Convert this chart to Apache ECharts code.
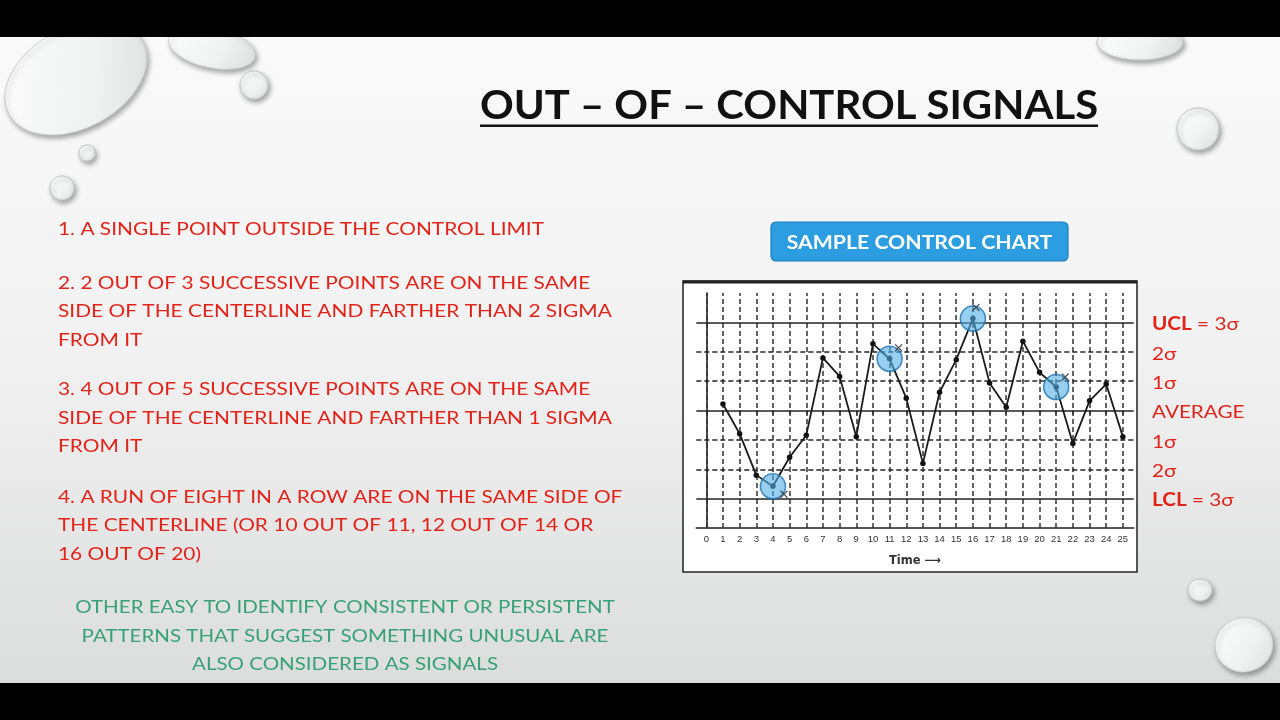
<!DOCTYPE html>
<html><head><meta charset="utf-8">
<script src="https://cdn.jsdelivr.net/npm/echarts@6/dist/echarts.min.js"></script>
<style>html,body{margin:0;padding:0;background:#000}#c{width:1280px;height:720px}</style>
</head><body><div id="c"></div>
<script>
// ---- data ----
const tickLabels = [0,1,2,3,4,5,6,7,8,9,10,11,12,13,14,15,16,17,18,19,20,21,22,23,24,25];
const times = [1,2,3,4,5,6,7,8,9,10,11,12,13,14,15,16,17,18,19,20,21,22,23,24,25];
const values = [0.22,-0.79,-2.20,-2.58,-1.59,-0.84,1.79,1.16,-0.89,2.27,1.76,0.42,-1.80,0.62,1.73,3.13,0.94,0.11,2.36,1.30,0.80,-1.12,0.33,0.90,-0.89];
const flagged = [4,11,16,21];
const sigmaLevels = [3,2,1,0,-1,-2,-3];
const sigmaLabels = ['UCL = 3σ','2σ','1σ','AVERAGE','1σ','2σ','LCL = 3σ'];
const titleText = 'OUT – OF – CONTROL SIGNALS';
const buttonText = 'SAMPLE CONTROL CHART';
const axisName = 'Time ⟶';
const ruleLines = [
  '1. A SINGLE POINT OUTSIDE THE CONTROL LIMIT',
  '2. 2 OUT OF 3 SUCCESSIVE POINTS ARE ON THE SAME',
  'SIDE OF THE CENTERLINE AND FARTHER THAN 2 SIGMA',
  'FROM IT',
  '3. 4 OUT OF 5 SUCCESSIVE POINTS ARE ON THE SAME',
  'SIDE OF THE CENTERLINE AND FARTHER THAN 1 SIGMA',
  'FROM IT',
  '4. A RUN OF EIGHT IN A ROW ARE ON THE SAME SIDE OF',
  'THE CENTERLINE (OR 10 OUT OF 11, 12 OUT OF 14 OR',
  '16 OUT OF 20)'
];
const noteLines = [
  'OTHER EASY TO IDENTIFY CONSISTENT OR PERSISTENT',
  'PATTERNS THAT SUGGEST SOMETHING UNUSUAL ARE',
  'ALSO CONSIDERED AS SIGNALS'
];

// ---- layout ----
const ruleY = [229,283,311,340,389,418,446,497,525,554];
const noteY = [607,636,664];
const crossOffsets = [[11,8],[9,-11],[3,-11],[9,-10]];
const RED = '#e2231a', GREEN = '#38a07a';
const FONT = 'Lato, "Open Sans", sans-serif';
const X_MIN = -0.6, X_MAX = 25.65;

const chart = echarts.init(document.getElementById('c'), null, {renderer:'canvas'});

const points = times.map((t,i)=>[t, values[i]]);
const flaggedPts = flagged.map(t => [t, values[times.indexOf(t)]]);
const crossPts = flaggedPts.map((p,i)=>({value:p, symbolOffset:crossOffsets[i]}));

function drop(cx, cy, rx, ry, rot) {
  return {
    type:'ellipse', x:cx, y:cy, rotation: rot || 0, z:-8,
    shape:{cx:0, cy:0, rx:rx, ry:ry},
    style:{
      fill: new echarts.graphic.LinearGradient(0,0,1,1,[
        {offset:0,color:'rgba(255,255,255,0.97)'},
        {offset:0.6,color:'rgba(243,245,244,0.97)'},
        {offset:1,color:'rgba(220,223,222,0.97)'}]),
      stroke:'rgba(200,203,202,0.8)', lineWidth:1,
      shadowBlur:5, shadowColor:'rgba(0,0,0,0.35)', shadowOffsetX:2, shadowOffsetY:3
    }
  };
}
function txt(t, x, y, font, fill, align, sx, z) {
  return {type:'text', x:x, y:y, scaleX:sx, scaleY:1, z: z || 3,
    style:{text:t, x:0, y:0, align:align, verticalAlign:'middle', font:font, fill:fill}};
}

const graphics = [
  {type:'rect', z:-10, shape:{x:0,y:0,width:1280,height:720},
   style:{fill:new echarts.graphic.LinearGradient(0,0,0,1,[
     {offset:0,color:'#fafbfa'},{offset:0.5,color:'#f0f1f0'},{offset:1,color:'#d9dbda'}])}},
  drop(76,78,76,50,0.5),
  drop(212,48,44,20,-0.2),
  drop(254,85,14,14,0),
  drop(87,153,8,8,0),
  drop(62,188,12,12,0),
  drop(1140,42,43,18,0),
  drop(1198,129,21,21,0),
  drop(1200,590,12,11,0),
  drop(1244,645,29,27,0.2),
  {type:'rect', z:5, shape:{x:0,y:0,width:1280,height:37}, style:{fill:'#000'}},
  {type:'rect', z:5, shape:{x:0,y:683,width:1280,height:37}, style:{fill:'#000'}},
  txt(titleText, 789, 106, 'bold 40px ' + FONT, '#111', 'center', 1.045),
  {type:'rect', z:3, shape:{x:480,y:124.5,width:618,height:2.5}, style:{fill:'#111'}},
  {type:'rect', z:3, shape:{x:771,y:222,width:297,height:39,r:5},
   style:{fill:'#2b9de0', stroke:'#1d7fba', lineWidth:1.2}},
  txt(buttonText, 919.5, 242.5, 'bold 19px ' + FONT, '#fff', 'center', 1.118, 4),
  {type:'rect', z:-2, shape:{x:683,y:281,width:454,height:291},
   style:{fill:'#ffffff', stroke:'#222', lineWidth:1.5}},
  {type:'rect', z:-1, shape:{x:683,y:280.5,width:454,height:3}, style:{fill:'#222'}}
];
ruleLines.forEach((t,i)=>graphics.push(txt(t, 58, ruleY[i], '18px ' + FONT, RED, 'left', 1.16)));
noteLines.forEach((t,i)=>graphics.push(txt(t, 345, noteY[i], '18px ' + FONT, GREEN, 'center', 1.14)));

const markData = sigmaLevels.map(v=>{
  const solid = (Math.abs(v) === 3 || v === 0);
  return {
    yAxis: v,
    lineStyle:{color:'#222', width: solid ? 1.6 : 1.5, type: solid ? 'solid' : [5,3]},
    label:{show:false}
  };
});

chart.setOption({
  animation:false,
  backgroundColor:'transparent',
  graphic: graphics,
  grid:{left:696.3, top:293, width:437.4, height:235, containLabel:false},
  xAxis:[{
    type:'value', min:X_MIN, max:X_MAX,
    name: axisName, nameLocation:'middle', nameGap:27,
    nameTextStyle:{fontSize:11.5, fontWeight:'bold', color:'#333', fontFamily:'"DejaVu Sans", sans-serif'},
    axisLine:{show:true, onZero:false, lineStyle:{color:'#222', width:1.6}},
    axisTick:{show:true, inside:true, length:235, customValues: tickLabels,
      lineStyle:{color:'#333', width:1.5, type:[5,3]}},
    axisLabel:{show:true, customValues: tickLabels, fontSize:9.5, color:'#333', margin:6,
      fontFamily:'"Liberation Sans", sans-serif'},
    splitLine:{show:false}
  },{
    type:'value', min:X_MIN, max:X_MAX, position:'bottom',
    axisLine:{show:false},
    axisTick:{show:true, inside:false, length:4, customValues: tickLabels,
      lineStyle:{color:'#333', width:1.5}},
    axisLabel:{show:false}, splitLine:{show:false}
  }],
  yAxis:{
    type:'value', min:-4, max:4,
    axisLine:{show:true, lineStyle:{color:'#222', width:1.6}},
    axisTick:{show:false}, axisLabel:{show:false}, splitLine:{show:false}
  },
  series:[
    {
      type:'line', data: points, z:5,
      symbol:'circle', symbolSize:5.5, showSymbol:true,
      itemStyle:{color:'#111'},
      lineStyle:{color:'#1a1a1a', width:1.8},
      markLine:{silent:true, symbol:'none', z:3, data: markData, animation:false}
    },
    {
      type:'scatter', data: flaggedPts, z:6,
      symbol:'circle', symbolSize:25,
      itemStyle:{color:'rgba(80,175,230,0.75)', borderColor:'#1f72b0', borderWidth:1.6}
    },
    {
      type:'scatter', data: crossPts, z:7,
      symbol:'path://M0,0L10,10M10,0L0,10', symbolSize:7,
      itemStyle:{color:'none', borderColor:'#333', borderWidth:1.3}
    }
  ]
});

// sigma labels placed at the library's pixel position of each level
const extra = sigmaLevels.map((v,i)=>{
  const p = chart.convertToPixel({gridIndex:0}, [X_MAX, v]);
  const parts = sigmaLabels[i].split(' = ');
  const text = parts.length > 1 ? '{b|' + parts[0] + '} = ' + parts[1] : sigmaLabels[i];
  return {type:'text', x:1152, y:p[1] + 2, scaleX:1.15, z:3,
    style:{text:text, x:0, y:0, align:'left', verticalAlign:'middle', font:'18px ' + FONT, fill:RED,
      rich:{b:{fontWeight:'bold', fontSize:18, fontFamily:FONT, fill:RED}}}};
});
chart.setOption({graphic: graphics.concat(extra)});
</script></body></html>
